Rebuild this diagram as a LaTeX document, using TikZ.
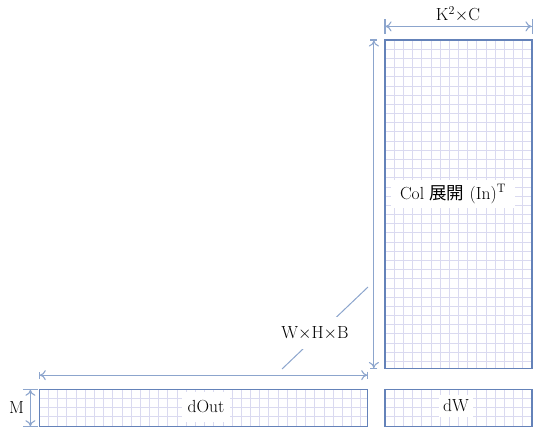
\documentclass[tikz,border=0pt]{standalone}
\usepackage{fontspec}
\newfontfamily\cjk{Noto Sans CJK JP}
\usetikzlibrary{arrows.meta,calc}
\definecolor{boxc}{RGB}{100,130,185}
\definecolor{gridc}{RGB}{218,218,240}
\definecolor{arrc}{RGB}{140,165,205}
\tikzset{
  gridbox/.style={draw=boxc, line width=1.2pt, inner sep=0pt, fill=white,
    path picture={
      \foreach \i in {1,...,40}{
        \draw[gridc, line width=0.7pt] ([xshift=\i*9.18pt]path picture bounding box.north west) -- ([xshift=\i*9.18pt]path picture bounding box.south west);
        \draw[gridc, line width=0.7pt] ([yshift=-\i*9.18pt]path picture bounding box.north west) -- ([yshift=-\i*9.18pt]path picture bounding box.north east);
      }
    }},
  lbl/.style={font=\fontsize{17.5}{21}\selectfont, text=black, inner sep=0pt},
  wlbl/.style={lbl, fill=white},
  bigdim/.style={draw=arrc, line width=1.1pt, arrows={Bar[width=15pt,sep=0pt]To[length=6pt,width=10pt]-To[length=6pt,width=10pt]Bar[width=15pt,sep=0pt]}},
  smalldim/.style={draw=arrc, line width=1.1pt, arrows={Bar[width=7pt,sep=0pt]To[length=6pt,width=10pt]-To[length=6pt,width=10pt]Bar[width=7pt,sep=0pt]}},
  diag/.style={draw=arrc, line width=1pt}
}
\begin{document}
\begin{tikzpicture}[x=1pt,y=-1pt]
\useasboundingbox (0,0) rectangle (546,439);
% boxes
\node[gridbox, minimum width=147pt, minimum height=328.5pt] (bigR) at (458.5,204.25) {};
\node[gridbox, minimum width=328.4pt, minimum height=37.4pt] (dOutR) at (203.5,408) {};
\node[gridbox, minimum width=147pt, minimum height=37.4pt] (dWR) at (458.5,408) {};
% dimension arrows
\draw[bigdim] ([yshift=13pt]bigR.north west) -- ([yshift=13pt]bigR.north east);
\draw[smalldim] ([xshift=-10.5pt]bigR.north west) -- ([xshift=-10.5pt]bigR.south west);
\draw[smalldim] ([yshift=13.6pt]dOutR.north west) -- ([yshift=13.6pt]dOutR.north east);
\draw[bigdim] ([xshift=-8.3pt]dOutR.north west) -- ([xshift=-8.3pt]dOutR.south west);
% diagonal
\coordinate (d1) at (282,369);
\coordinate (d2) at (368,287);
\draw[diag] (d1) -- (d2);
% labels
\node[lbl] (kc) at (458,14) {K$^{2}\times$C};
\node[lbl] (m) at (16.5,408) {M};
\node[wlbl, inner xsep=2pt, inner ysep=9pt] (whb) at (315,333) {W$\times$H$\times$B};
\node[wlbl, inner xsep=9pt, inner ysep=5pt] (col) at (453,194) {Col {\cjk 展開} (In)$^{\mathrm{T}}$};
\node[wlbl, inner xsep=6pt, inner ysep=9pt] (dout) at (206,407) {dOut};
\node[wlbl, inner xsep=4pt, inner ysep=5pt] (dw) at (456,406) {dW};
\end{tikzpicture}
\end{document}
